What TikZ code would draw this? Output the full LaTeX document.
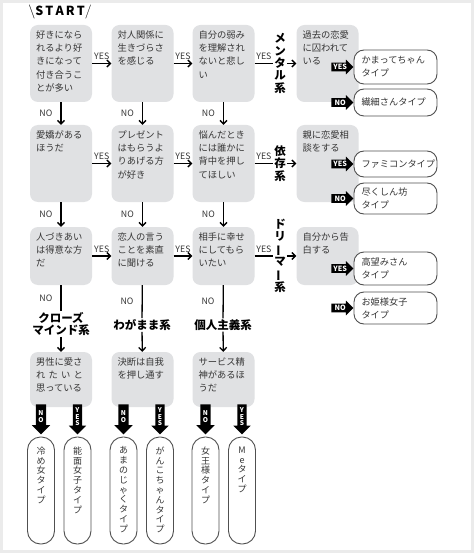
\documentclass[tikz,border=0pt]{standalone}
\usepackage{fontspec}
\newfontfamily\jp{Noto Sans CJK JP}
\usetikzlibrary{arrows.meta,shapes.arrows}
\definecolor{boxgray}{HTML}{E0E1E3}
\definecolor{txtgray}{HTML}{363636}
\definecolor{rimgray}{HTML}{505050}
\definecolor{framegray}{HTML}{EBEBEB}
\tikzset{
	qbox/.style={fill=boxgray, rounded corners=8pt, minimum width=62pt, inner sep=0pt},
	qtext/.style={anchor=north west, inner sep=0pt, align=left, text=txtgray, font=\jp\fontsize{9.3}{13.3}\selectfont},
	ans/.style={draw=rimgray, line width=0.9pt, fill=white, rounded corners=10pt, minimum width=83pt, text width=68pt, align=left, inner xsep=7.5pt, inner ysep=0pt, text=txtgray, font=\jp\fontsize{9.2}{13}\selectfont},
	pill/.style={draw=rimgray, line width=0.9pt, fill=white, rounded corners=13pt, minimum width=27pt, minimum height=107pt, inner sep=0pt},
	pilltext/.style={anchor=north, inner sep=0pt, align=center, text=txtgray, font=\jp\fontsize{9}{9.8}\selectfont},
	yn/.style={text=txtgray, inner sep=1pt, font=\jp\fontsize{8.8}{9}\selectfont},
	kei/.style={align=center, inner sep=1pt, font=\jp\bfseries\fontsize{11.5}{12.4}\selectfont},
	flag/.style={single arrow, fill=black, text=white, inner sep=1.3pt, single arrow head extend=3pt, minimum height=22pt, font=\jp\bfseries\fontsize{7.2}{7.5}\selectfont},
	dflag/.style={flag, shape border rotate=270, align=center, minimum height=30pt, inner xsep=2.4pt, single arrow head extend=4pt, font=\jp\bfseries\fontsize{6.6}{6.6}\selectfont},
	go/.style={-{Straight Barb[length=3.5pt,width=7pt]}, line width=1.3pt},
	link/.style={line width=1.3pt}
}
\def\qnode(#1)(#2,#3)[#4]#5{\node[qbox, minimum height=#4pt] (#1) at (#2,#3) {};
	\node[qtext] (#1t) at ([xshift=6pt,yshift=-5.5pt]#1.north west) {#5};}

\begin{document}
\begin{tikzpicture}[x=1pt,y=-1pt]
		%%%%% START %%%%%
		\useasboundingbox (0,0) rectangle (474,553);
		\fill[white] (0,0) rectangle (474,553);
		\draw[framegray, line width=3pt] (1.5,1.5) rectangle (472.5,551.5);
		
		\node[inner sep=0pt] (start) at (60,12.5) {{\fontsize{14}{14}\selectfont\textbackslash}{\jp\bfseries\fontsize{12.5}{13}\selectfont S\,T\,A\,R\,T}{\fontsize{14}{14}\selectfont/}};
		
		% questions
		\qnode(b11)(61,63.5)[77]{好きになら\\れるより好\\きになって\\付き合うこ\\とが多い}
		\qnode(b12)(142.5,63.5)[77]{対人関係に\\生きづらさ\\を感じる}
		\qnode(b13)(223.5,63.5)[77]{自分の弱み\\を理解され\\ないと悲し\\い}
		\qnode(b14)(327.5,63.5)[77]{過去の恋愛\\に囚われて\\いる}
		
		\qnode(b21)(61,163.5)[77]{愛嬌がある\\ほうだ}
		\qnode(b22)(142.5,163.5)[77]{プレゼント\\はもらうよ\\りあげる方\\が好き}
		\qnode(b23)(223.5,163.5)[77]{悩んだとき\\には誰かに\\背中を押し\\てほしい}
		\qnode(b24)(327.5,163.5)[77]{親に恋愛相\\談をする}
		
		\qnode(b31)(61,256)[58]{人づきあい\\は得意な方\\だ}
		\qnode(b32)(142.5,256)[58]{恋人の言う\\ことを素直\\に聞ける}
		\qnode(b33)(223.5,256)[58]{相手に幸せ\\にしてもら\\いたい}
		\qnode(b34)(327.5,256)[58]{自分から告\\白する}
		
		\qnode(b41)(61,379.5)[55]{男性に愛さ\\\hbox to 47pt{れ\hfill た\hfill い\hfill と}\\思っている}
		\qnode(b42)(142.5,379.5)[55]{決断は自我\\を押し通す}
		\qnode(b43)(223.5,379.5)[55]{サービス精\\神があるほ\\うだ}
		
		% groups
		\node[kei] (k1) at (280,63.5) {メ\\ン\\タ\\ル\\系};
		\node[kei] (k2) at (280,163.5) {依\\存\\系};
		\node[kei] (k3) at (280,256) {ド\\リ\\\rotatebox[origin=c]{90}{ー}\\マ\\\rotatebox[origin=c]{90}{ー}\\系};
		\node[kei] (k4) at (61,324) {クローズ\\マインド系};
		\node[kei] (k5) at (142,325) {わがまま系};
		\node[kei] (k6) at (223,325) {個人主義系};
		
		% yes arrows
		\draw[go] (b11) -- node[yn, above=2pt]{YES} (b12);
		\draw[go] (b12) -- node[yn, above=2pt]{YES} (b13);
		\draw[link] (b13.east) -- node[yn, above=2pt]{YES} (k1.west);
		\draw[go] (k1.east) -- (b14.west);
		\draw[go] (b21) -- node[yn, above=2pt]{YES} (b22);
		\draw[go] (b22) -- node[yn, above=2pt]{YES} (b23);
		\draw[link] (b23.east) -- node[yn, above=2pt]{YES} (k2.west);
		\draw[go] (k2.east) -- (b24.west);
		\draw[go] (b31) -- node[yn, above=2pt]{YES} (b32);
		\draw[go] (b32) -- node[yn, above=2pt]{YES} (b33);
		\draw[link] (b33.east) -- node[yn, above=2pt]{YES} (k3.west);
		\draw[go] (k3.east) -- (b34.west);
		
		% no arrows
		\draw[go] (b11) -- node[yn, left=7pt]{NO} (b21);
		\draw[go] (b12) -- node[yn, left=7pt]{NO} (b22);
		\draw[go] (b13) -- node[yn, left=7pt]{NO} (b23);
		\draw[go] (b21) -- node[yn, left=7pt]{NO} (b31);
		\draw[go] (b22) -- node[yn, left=7pt]{NO} (b32);
		\draw[go] (b23) -- node[yn, left=7pt]{NO} (b33);
		\draw[link] (b31) -- node[yn, left=7pt]{NO} (k4);
		\draw[link] (b32) -- node[yn, left=7pt]{NO} (k5);
		\draw[link] (b33) -- node[yn, left=7pt]{NO} (k6);
		\draw[go] (k4) -- (b41);
		\draw[go] (k5) -- (b42);
		\draw[go] (k6) -- (b43);
		
		% right side types
		\node[ans, minimum height=34pt] (r1y) at (395.5,67) {かまってちゃん\\タイプ};
		\node[ans, minimum height=27pt] (r1n) at (395.5,102.5) {繊細さんタイプ};
		\node[ans, minimum height=26pt] (r2y) at (395.5,164) {ファミコンタイプ};
		\node[ans, minimum height=31pt] (r2n) at (395.5,198.5) {尽くしん坊\\タイプ};
		\node[ans, minimum height=33pt] (r3y) at (395.5,268.5) {高望みさん\\タイプ};
		\node[ans, minimum height=32pt] (r3n) at (395.5,308) {お姫様女子\\タイプ};
		\foreach \r/\a in {r1y/YES,r1n/NO,r2y/YES,r2n/NO,r3y/YES,r3n/NO}
			\node[flag, anchor=tip] (f\r) at (\r.west) {\a};
		
		% bottom types
		\foreach \p/\x/\a/\t in {p1/41/NO/冷\\め\\女\\タ\\イ\\プ,
				p2/77.5/YES/能\\面\\女\\子\\タ\\イ\\プ,
				p3/123.5/NO/あ\\ま\\の\\じ\\ゃ\\く\\タ\\イ\\プ,
				p4/160/YES/が\\ん\\こ\\ち\\ゃ\\ん\\タ\\イ\\プ,
				p5/205.5/NO/女\\王\\様\\タ\\イ\\プ,
				p6/242/YES/M\\e\\タ\\イ\\プ}{
			\node[pill] (\p) at (\x,490.5) {};
			\node[pilltext] (\p t) at ([yshift=-10pt]\p.north) {\t};
		}
		\node[dflag, anchor=tip] (d1) at ([yshift=2pt]p1.north) {N\\O};
		\node[dflag, anchor=tip] (d2) at ([yshift=2pt]p2.north) {Y\\E\\S};
		\node[dflag, anchor=tip] (d3) at ([yshift=2pt]p3.north) {N\\O};
		\node[dflag, anchor=tip] (d4) at ([yshift=2pt]p4.north) {Y\\E\\S};
		\node[dflag, anchor=tip] (d5) at ([yshift=2pt]p5.north) {N\\O};
		\node[dflag, anchor=tip] (d6) at ([yshift=2pt]p6.north) {Y\\E\\S};
		%%%%% END %%%%%
	\end{tikzpicture}
\end{document}
